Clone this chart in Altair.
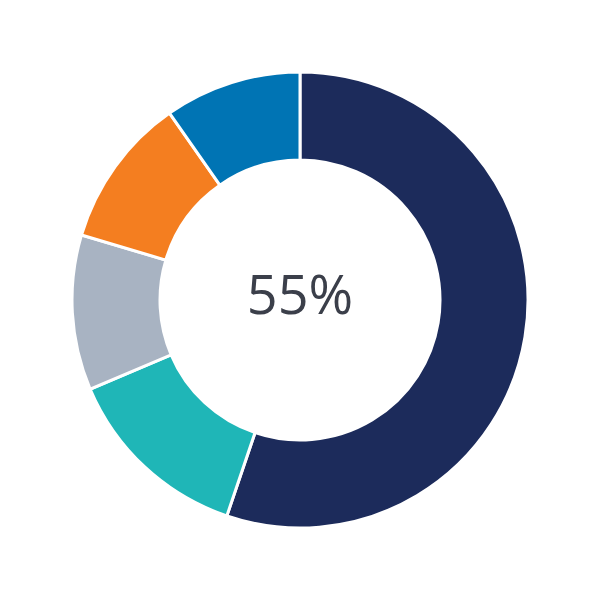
import altair as alt
import pandas as pd

categories = ["A", "B", "C", "D", "E"]
values = [55.2, 13.4, 11.0, 10.7, 9.7]
colors = ["#1c2b5b", "#1fb6b7", "#a8b3c2", "#f47e20", "#0074b4"]
center_label = "55%"

df = pd.DataFrame({"cat": categories, "val": values, "idx": list(range(len(categories)))})

base = alt.Chart(df)
arcs = base.mark_arc(innerRadius=140, outerRadius=228, stroke="white", strokeWidth=3).encode(
    theta=alt.Theta("val:Q", stack=True),
    order=alt.Order("idx:Q"),
    color=alt.Color("cat:N", scale=alt.Scale(domain=categories, range=colors), legend=None),
    x=alt.value(292),
    y=alt.value(292),
)

text = alt.Chart(pd.DataFrame({"t": [center_label]})).mark_text(
    font="Open Sans", fontSize=54, color="#3b3f4a", align="center", baseline="middle"
).encode(text="t:N", x=alt.value(292), y=alt.value(290))

chart = alt.layer(arcs, text).properties(width=584, height=584, padding=0, autosize=alt.AutoSizeParams(type="none")).configure_view(stroke=None)
chart.save("out.html", embed_options={"renderer": "svg", "actions": False})
